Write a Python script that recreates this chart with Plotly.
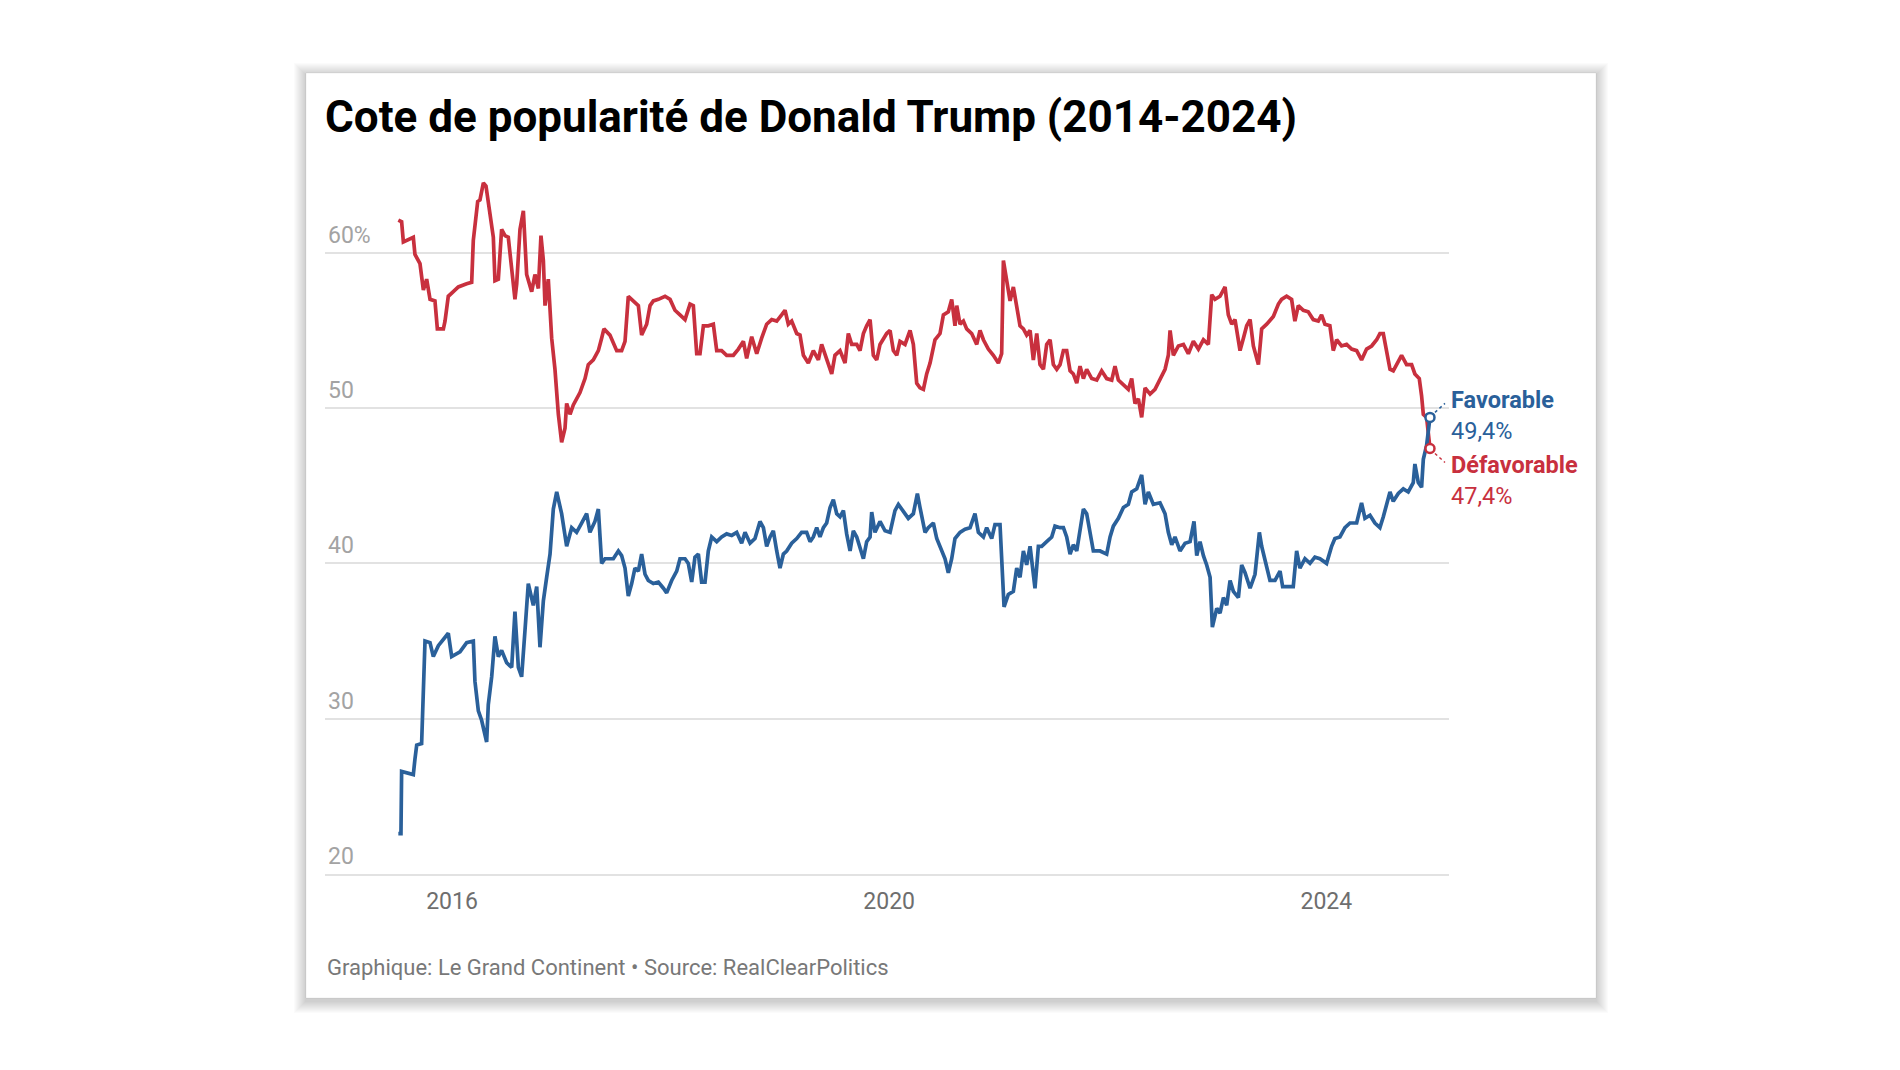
import plotly.graph_objects as go

# ---------------- data ----------------
unfav_year = [
    2015.509, 2015.539, 2015.555, 2015.646, 2015.661, 2015.707, 2015.738, 2015.768, 2015.799, 2015.844,
    2015.866, 2015.921, 2015.936, 2015.966, 2016.012, 2016.058, 2016.134, 2016.180, 2016.195, 2016.235,
    2016.256, 2016.287, 2016.311, 2016.348, 2016.378, 2016.393, 2016.424, 2016.454, 2016.485, 2016.515,
    2016.546, 2016.576, 2016.592, 2016.622, 2016.653, 2016.683, 2016.729, 2016.759, 2016.790, 2016.814,
    2016.836, 2016.851, 2016.881, 2016.912, 2016.942, 2016.973, 2017.003, 2017.034, 2017.049, 2017.080,
    2017.110, 2017.171, 2017.217, 2017.247, 2017.293, 2017.339, 2017.369, 2017.390, 2017.445, 2017.507,
    2017.552, 2017.583, 2017.613, 2017.659, 2017.705, 2017.735, 2017.781, 2017.812, 2017.842, 2017.888,
    2017.949, 2017.995, 2018.040, 2018.086, 2018.132, 2018.178, 2018.208, 2018.239, 2018.269, 2018.300,
    2018.345, 2018.391, 2018.422, 2018.467, 2018.513, 2018.574, 2018.620, 2018.666, 2018.696, 2018.742,
    2018.788, 2018.833, 2018.879, 2018.925, 2018.971, 2019.016, 2019.047, 2019.077, 2019.108, 2019.154,
    2019.184, 2019.215, 2019.260, 2019.306, 2019.352, 2019.382, 2019.428, 2019.474, 2019.504, 2019.550,
    2019.596, 2019.626, 2019.657, 2019.703, 2019.733, 2019.764, 2019.794, 2019.825, 2019.855, 2019.886,
    2019.916, 2019.947, 2019.977, 2020.008, 2020.038, 2020.069, 2020.099, 2020.145, 2020.191, 2020.221,
    2020.252, 2020.282, 2020.313, 2020.343, 2020.374, 2020.419, 2020.465, 2020.496, 2020.541, 2020.572,
    2020.602, 2020.618, 2020.648, 2020.679, 2020.709, 2020.755, 2020.801, 2020.831, 2020.862, 2020.907,
    2020.953, 2020.999, 2021.029, 2021.045, 2021.075, 2021.106, 2021.136, 2021.167, 2021.197, 2021.228,
    2021.258, 2021.289, 2021.319, 2021.350, 2021.380, 2021.411, 2021.441, 2021.472, 2021.502, 2021.533,
    2021.563, 2021.594, 2021.624, 2021.655, 2021.685, 2021.716, 2021.746, 2021.777, 2021.807, 2021.853,
    2021.899, 2021.944, 2021.990, 2022.036, 2022.066, 2022.097, 2022.143, 2022.188, 2022.219, 2022.249,
    2022.280, 2022.310, 2022.341, 2022.387, 2022.432, 2022.478, 2022.524, 2022.554, 2022.570, 2022.600,
    2022.646, 2022.692, 2022.737, 2022.783, 2022.829, 2022.875, 2022.920, 2022.951, 2022.981, 2023.027,
    2023.073, 2023.103, 2023.134, 2023.164, 2023.210, 2023.241, 2023.271, 2023.302, 2023.332, 2023.378,
    2023.408, 2023.454, 2023.515, 2023.561, 2023.590, 2023.636, 2023.682, 2023.712, 2023.743, 2023.789,
    2023.834, 2023.880, 2023.926, 2023.956, 2023.987, 2024.032, 2024.063, 2024.094, 2024.139, 2024.185,
    2024.231, 2024.277, 2024.322, 2024.368, 2024.414, 2024.460, 2024.490, 2024.521, 2024.551, 2024.582,
    2024.612, 2024.643, 2024.688, 2024.734, 2024.780, 2024.810, 2024.850, 2024.871, 2024.887, 2024.917,
    2024.948,
]
unfav_value = [
    62.1, 62.0, 60.7, 61.0, 59.9, 59.3, 57.6, 58.3, 57.0, 56.9,
    55.1, 55.1, 55.6, 57.2, 57.5, 57.8, 58.0, 58.1, 60.8, 63.3,
    63.4, 64.5, 64.3, 62.4, 61.0, 58.2, 58.3, 61.5, 61.1, 61.0,
    59.2, 57.0, 58.0, 61.5, 62.7, 58.6, 57.5, 58.6, 57.7, 61.1,
    59.5, 56.6, 58.3, 54.5, 52.5, 49.6, 47.8, 48.7, 50.3, 49.6,
    50.2, 51.0, 51.9, 52.8, 53.1, 53.7, 54.5, 55.1, 54.7, 53.7,
    53.7, 54.3, 57.2, 56.9, 56.6, 54.7, 55.4, 56.6, 56.9, 57.0,
    57.2, 57.0, 56.3, 56.0, 55.7, 56.7, 56.6, 53.5, 53.5, 55.3,
    55.3, 55.4, 53.7, 53.7, 53.4, 53.4, 53.8, 54.3, 53.2, 54.6,
    53.5, 54.5, 55.4, 55.7, 55.6, 56.0, 56.3, 55.4, 55.6, 54.8,
    54.7, 53.4, 52.9, 53.7, 53.1, 54.1, 53.1, 52.2, 53.4, 53.7,
    52.9, 54.8, 54.1, 54.1, 53.7, 54.8, 55.3, 55.7, 53.4, 53.1,
    54.1, 54.5, 54.8, 55.0, 53.7, 53.4, 54.3, 54.1, 55.0, 54.1,
    51.6, 51.3, 51.2, 52.2, 52.9, 54.4, 54.8, 56.0, 56.2, 57.0,
    55.3, 56.6, 55.4, 55.6, 55.1, 54.8, 54.1, 55.0, 54.4, 53.8,
    53.4, 52.9, 53.5, 59.5, 58.2, 56.9, 57.8, 56.6, 55.3, 55.1,
    54.7, 55.0, 53.1, 54.8, 52.8, 52.5, 54.1, 54.4, 52.8, 52.5,
    52.8, 53.7, 53.7, 52.4, 52.2, 51.6, 52.7, 51.9, 52.5, 51.9,
    51.8, 52.4, 51.9, 51.8, 52.7, 51.8, 51.5, 51.2, 51.9, 50.3,
    50.6, 49.4, 51.3, 50.9, 51.2, 51.8, 52.5, 53.4, 55.0, 53.4,
    54.0, 54.1, 53.5, 54.3, 53.8, 54.4, 54.1, 57.3, 57.0, 57.2,
    57.8, 56.0, 55.4, 55.7, 53.7, 54.5, 55.3, 55.7, 54.0, 52.8,
    55.1, 55.4, 55.9, 56.7, 57.0, 57.2, 57.0, 55.6, 56.6, 56.3,
    56.2, 55.7, 55.6, 56.0, 55.4, 55.3, 53.7, 54.4, 54.0, 54.1,
    53.8, 53.7, 53.1, 53.8, 54.0, 54.4, 54.8, 54.8, 53.8, 52.5,
    52.4, 52.8, 53.4, 52.8, 52.8, 52.2, 51.9, 50.8, 49.6, 49.4,
    47.4,
]

fav_year = [
    2015.509, 2015.533, 2015.539, 2015.646, 2015.661, 2015.677, 2015.722, 2015.738, 2015.753, 2015.799,
    2015.829, 2015.875, 2015.966, 2015.997, 2016.073, 2016.134, 2016.195, 2016.210, 2016.241, 2016.271,
    2016.317, 2016.332, 2016.363, 2016.393, 2016.424, 2016.454, 2016.500, 2016.546, 2016.576, 2016.607,
    2016.637, 2016.668, 2016.698, 2016.744, 2016.775, 2016.805, 2016.836, 2016.866, 2016.897, 2016.927,
    2016.958, 2017.003, 2017.049, 2017.095, 2017.140, 2017.186, 2017.232, 2017.262, 2017.308, 2017.339,
    2017.369, 2017.400, 2017.476, 2017.522, 2017.552, 2017.583, 2017.613, 2017.644, 2017.674, 2017.705,
    2017.735, 2017.766, 2017.796, 2017.842, 2017.888, 2017.934, 2017.964, 2018.010, 2018.056, 2018.086,
    2018.132, 2018.162, 2018.193, 2018.223, 2018.254, 2018.284, 2018.315, 2018.345, 2018.376, 2018.422,
    2018.467, 2018.513, 2018.559, 2018.605, 2018.650, 2018.681, 2018.727, 2018.772, 2018.818, 2018.849,
    2018.879, 2018.910, 2018.940, 2018.971, 2019.001, 2019.032, 2019.062, 2019.108, 2019.154, 2019.199,
    2019.245, 2019.276, 2019.306, 2019.337, 2019.367, 2019.398, 2019.428, 2019.459, 2019.489, 2019.520,
    2019.550, 2019.581, 2019.611, 2019.642, 2019.672, 2019.703, 2019.733, 2019.764, 2019.794, 2019.825,
    2019.840, 2019.870, 2019.916, 2019.962, 2020.008, 2020.053, 2020.084, 2020.130, 2020.175, 2020.221,
    2020.258, 2020.282, 2020.328, 2020.358, 2020.404, 2020.435, 2020.480, 2020.511, 2020.541, 2020.572,
    2020.602, 2020.648, 2020.694, 2020.740, 2020.785, 2020.816, 2020.862, 2020.892, 2020.938, 2020.968,
    2021.014, 2021.051, 2021.090, 2021.136, 2021.167, 2021.197, 2021.228, 2021.258, 2021.289, 2021.334,
    2021.365, 2021.395, 2021.441, 2021.487, 2021.517, 2021.563, 2021.594, 2021.624, 2021.655, 2021.685,
    2021.716, 2021.746, 2021.777, 2021.807, 2021.838, 2021.868, 2021.929, 2021.990, 2022.021, 2022.051,
    2022.097, 2022.143, 2022.188, 2022.219, 2022.265, 2022.310, 2022.341, 2022.371, 2022.417, 2022.478,
    2022.524, 2022.554, 2022.585, 2022.615, 2022.661, 2022.707, 2022.753, 2022.789, 2022.814, 2022.844,
    2022.875, 2022.905, 2022.936, 2022.957, 2022.997, 2023.027, 2023.058, 2023.088, 2023.119, 2023.149,
    2023.195, 2023.225, 2023.256, 2023.302, 2023.347, 2023.387, 2023.408, 2023.454, 2023.484, 2023.530,
    2023.576, 2023.600, 2023.636, 2023.697, 2023.728, 2023.758, 2023.804, 2023.850, 2023.895, 2023.941,
    2024.002, 2024.048, 2024.078, 2024.124, 2024.170, 2024.216, 2024.277, 2024.322, 2024.353, 2024.399,
    2024.444, 2024.490, 2024.521, 2024.551, 2024.582, 2024.612, 2024.658, 2024.704, 2024.749, 2024.795,
    2024.810, 2024.841, 2024.871, 2024.887, 2024.917, 2024.948,
]
fav_value = [
    22.6, 22.6, 26.6, 26.4, 27.4, 28.3, 28.4, 31.8, 35.0, 34.9,
    34.0, 34.7, 35.5, 34.0, 34.3, 34.9, 35.0, 32.4, 30.5, 29.9,
    28.5, 30.9, 32.7, 35.3, 34.0, 34.4, 33.6, 33.3, 36.9, 33.3,
    32.7, 35.7, 38.7, 37.3, 38.5, 34.6, 37.6, 39.1, 40.6, 43.5,
    44.6, 43.2, 41.1, 42.3, 42.0, 42.6, 43.2, 42.0, 42.7, 43.5,
    40.0, 40.3, 40.3, 40.8, 40.5, 39.7, 37.9, 38.7, 39.7, 39.5,
    40.6, 39.3, 38.9, 38.7, 38.8, 38.4, 38.1, 38.9, 39.5, 40.3,
    40.3, 40.0, 38.8, 40.4, 40.6, 38.8, 38.8, 40.8, 41.7, 41.4,
    41.7, 41.9, 41.8, 42.0, 41.3, 42.0, 41.3, 41.6, 42.7, 42.3,
    41.1, 41.7, 42.1, 40.8, 39.7, 40.6, 40.8, 41.3, 41.6, 42.0,
    42.0, 41.4, 41.7, 42.3, 41.7, 42.3, 42.6, 43.6, 44.1, 43.2,
    43.0, 43.4, 41.9, 40.8, 42.1, 41.7, 41.1, 40.3, 41.4, 41.7,
    43.3, 42.0, 42.7, 42.1, 42.0, 43.4, 43.8, 43.3, 42.9, 43.2,
    44.5, 43.6, 42.0, 42.3, 42.6, 41.6, 40.8, 40.3, 39.4, 40.3,
    41.6, 42.0, 42.2, 42.3, 43.2, 42.0, 41.7, 42.3, 41.6, 42.5,
    42.5, 37.2, 38.0, 38.2, 39.7, 39.1, 40.8, 39.9, 41.1, 38.4,
    41.1, 41.1, 41.4, 41.7, 42.4, 42.3, 42.3, 41.7, 40.6, 41.2,
    40.8, 42.3, 43.5, 43.2, 41.9, 40.8, 40.8, 40.6, 41.7, 42.4,
    42.9, 43.6, 43.8, 44.6, 44.8, 45.7, 43.8, 44.6, 43.8, 43.9,
    43.2, 42.0, 41.2, 41.7, 40.8, 41.3, 41.4, 42.7, 40.5, 41.4,
    40.5, 39.9, 39.1, 35.9, 37.1, 36.8, 37.8, 37.3, 38.9, 38.2,
    37.8, 39.9, 39.4, 38.4, 39.3, 42.0, 41.1, 39.7, 38.9, 38.9,
    39.5, 38.5, 38.5, 38.5, 40.8, 39.7, 40.3, 40.0, 40.4, 40.3,
    40.0, 41.1, 41.6, 41.7, 42.3, 42.6, 42.6, 43.9, 42.9, 43.1,
    42.6, 42.3, 43.0, 43.8, 44.6, 44.0, 44.5, 44.8, 44.6, 45.2,
    46.4, 45.2, 44.9, 46.7, 47.6, 49.4,
]

y_ticks = [20, 30, 40, 50, 60]
y_tick_labels = ["20", "30", "40", "50", "60%"]
x_ticks = [2016, 2020, 2024]
x_tick_labels = ["2016", "2020", "2024"]

title_text = "Cote de popularité de Donald Trump (2014-2024)"
footer_text = "Graphique: Le Grand Continent • Source: RealClearPolitics"
fav_label = "Favorable"
unfav_label = "Défavorable"

RED = "#c8303e"
BLUE = "#2a609a"
W, H = 1900, 1070
FONT = "Roboto"


def px_x(p):
    return p / W


def px_y(p):
    return 1 - p / H


fig = go.Figure()

fig.add_trace(go.Scatter(x=unfav_year, y=unfav_value, mode="lines",
                         line=dict(color=RED, width=3.7), hoverinfo="skip"))
fig.add_trace(go.Scatter(x=fav_year, y=fav_value, mode="lines",
                         line=dict(color=BLUE, width=3.7), hoverinfo="skip"))

# end markers
fig.add_trace(go.Scatter(x=[unfav_year[-1]], y=[unfav_value[-1]], mode="markers",
                         marker=dict(size=9, color="white", line=dict(color=RED, width=2.5)),
                         hoverinfo="skip"))
fig.add_trace(go.Scatter(x=[fav_year[-1]], y=[fav_value[-1]], mode="markers",
                         marker=dict(size=9, color="white", line=dict(color=BLUE, width=2.5)),
                         hoverinfo="skip"))

shapes = []
# card shadow + card
cx0, cy0, cx1, cy1 = 306, 73, 1596, 998
for i in range(12, 0, -1):
    shapes.append(dict(type="rect", xref="paper", yref="paper", layer="below",
                       x0=px_x(cx0 - i), x1=px_x(cx1 + i),
                       y0=px_y(cy1 + i + 3), y1=px_y(cy0 - i + 2),
                       fillcolor="rgba(0,0,0,0.014)", line=dict(width=0)))
shapes.append(dict(type="rect", xref="paper", yref="paper", layer="below",
                   x0=px_x(cx0), x1=px_x(cx1), y0=px_y(cy1), y1=px_y(cy0),
                   fillcolor="white", line=dict(color="rgba(0,0,0,0.06)", width=1)))

# dotted connectors from end markers to labels
shapes.append(dict(type="line", xref="x", yref="y",
                   xsizemode="pixel", xanchor=fav_year[-1], x0=5, x1=15,
                   ysizemode="pixel", yanchor=fav_value[-1], y0=5, y1=14,
                   line=dict(color=BLUE, width=1.5, dash="dot")))
shapes.append(dict(type="line", xref="x", yref="y",
                   xsizemode="pixel", xanchor=unfav_year[-1], x0=5, x1=15,
                   ysizemode="pixel", yanchor=unfav_value[-1], y0=-5, y1=-14,
                   line=dict(color=RED, width=1.5, dash="dot")))

annotations = [
    dict(text=f"<b>{fav_label}</b><br>{str(fav_value[-1]).replace('.', ',')}%",
         x=fav_year[-1], y=fav_value[-1], xref="x", yref="y",
         xanchor="left", yanchor="middle", align="left", xshift=19, yshift=2,
         showarrow=False, font=dict(family=FONT, size=23.5, color=BLUE)),
    dict(text=f"<b>{unfav_label}</b><br>{str(unfav_value[-1]).replace('.', ',')}%",
         x=unfav_year[-1], y=unfav_value[-1], xref="x", yref="y",
         xanchor="left", yanchor="middle", align="left", xshift=19, yshift=-32,
         showarrow=False, font=dict(family=FONT, size=23.5, color=RED)),
    dict(text=footer_text, x=px_x(325), y=px_y(967), xref="paper", yref="paper",
         xanchor="left", yanchor="middle", showarrow=False,
         font=dict(family=FONT, size=22, color="#787878")),
]

fig.update_layout(
    width=W, height=H,
    margin=dict(l=0, r=0, t=0, b=0),
    paper_bgcolor="white", plot_bgcolor="white",
    showlegend=False,
    font=dict(family=FONT),
    title=dict(text=title_text, x=px_x(325), xanchor="left", xref="paper",
               y=px_y(117), yanchor="middle", yref="paper",
               font=dict(family=FONT, size=44, color="#000000", weight=700)),
    xaxis=dict(domain=[px_x(325), px_x(1449)], range=[2014.838, 2025.122],
               tickvals=x_ticks, ticktext=x_tick_labels, showgrid=False, zeroline=False,
               showline=True, linecolor="#e2e2e2", linewidth=1.5, ticks="",
               ticklabelstandoff=6,
               tickfont=dict(family=FONT, size=23, color="#6e6e6e"), fixedrange=True),
    yaxis=dict(domain=[1 - 874 / H, 1 - 159.6 / H], range=[20, 66],
               tickvals=y_ticks, ticktext=y_tick_labels, showgrid=True,
               gridcolor="#e2e2e2", gridwidth=1.5, zeroline=False, showline=False,
               ticks="", ticklabelposition="inside", ticklabelshift=-18, ticklabelstandoff=0,
               tickfont=dict(family=FONT, size=23, color="#a3a3a3"), fixedrange=True),
    shapes=shapes,
    annotations=annotations,
)

fig.write_html("out.html")
